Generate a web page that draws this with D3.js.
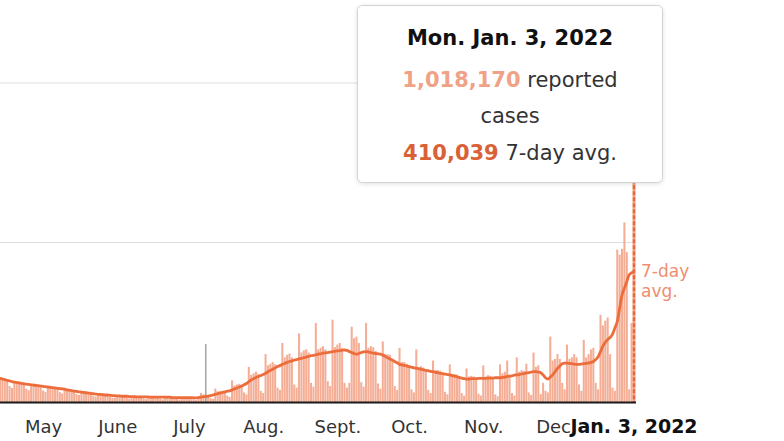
<!DOCTYPE html>
<html>
<head>
<meta charset="utf-8">
<script src="https://cdn.jsdelivr.net/npm/d3@7"></script>
<style>
  body { margin: 0; background: #fff; }
  svg { display: block; font-family: "DejaVu Sans", "Liberation Sans", sans-serif; }
</style>
</head>
<body>
<div id="chart"></div>
<script>
// US daily reported coronavirus cases, Apr. 12, 2021 – Jan. 3, 2022 (thousands)
const startDate = "2021-04-12";

// one row per week, Mon..Sun
const casesK = [
  80, 78, 76, 74, 72, 50, 44,
  66, 65, 64, 62, 60, 42, 37,
  57, 56, 55, 54, 52, 36, 32,
  49, 48, 47, 46, 45, 31, 27,
  41, 40, 39, 38, 36, 25, 22,
  32, 31, 30, 29, 28, 20, 17,
  25, 24, 24, 23, 22, 16, 13,
  14, 22, 21, 20, 19, 13, 11,
  18, 18, 17, 17, 17, 11, 9,
  17, 17, 16, 16, 16, 10, 8,
  16, 16, 15, 15, 15, 10, 8,
  16, 16, 15, 16, 15, 8, 6,
  10, 28, 24, 24, 23, 12, 10,
  42, 34, 34, 35, 33, 20, 16,
  68, 52, 55, 57, 52, 30, 24,
  110, 85, 90, 95, 88, 35, 28,
  150, 115, 120, 125, 118, 45, 38,
  185, 140, 148, 152, 140, 55, 45,
  215, 155, 162, 165, 155, 60, 48,
  248, 165, 170, 175, 165, 65, 50,
  258, 172, 180, 185, 170, 60, 45,
  60, 236, 200, 205, 185, 62, 48,
  248, 170, 175, 172, 160, 58, 42,
  190, 150, 150, 148, 135, 50, 38,
  170, 125, 125, 120, 112, 40, 30,
  165, 110, 112, 108, 100, 38, 28,
  130, 100, 100, 98, 90, 32, 24,
  118, 88, 88, 86, 80, 28, 20,
  105, 80, 82, 80, 74, 26, 20,
  115, 80, 84, 82, 76, 24, 18,
  118, 90, 95, 130, 85, 28, 20,
  140, 95, 100, 98, 120, 30, 22,
  155, 110, 115, 25, 60, 35, 30,
  205, 130, 135, 150, 135, 60, 40,
  180, 135, 140, 150, 140, 55, 35,
  195, 140, 150, 165, 170, 60, 40,
  273, 240, 255, 265, 150, 45, 35,
  478, 462, 480, 563, 470, 40, 248,
  1018.17
];

// 7-day average as drawn (thousands)
const avgK = [
  76, 74, 72, 70, 68, 66, 64,
  62, 61, 60, 58, 57, 56, 55,
  54, 53, 52, 51, 50, 49, 48,
  47, 46, 45, 44, 43, 42, 41,
  40, 38, 37, 36, 34, 33, 32,
  31, 30, 29, 28, 27, 26, 25,
  24, 24, 23, 22, 22, 21, 20,
  20, 19, 19, 18, 18, 18, 17,
  17, 17, 16, 16, 16, 16, 16,
  16, 15, 15, 15, 15, 15, 15,
  15, 15, 15, 14, 14, 14, 14,
  14, 14, 14, 14, 14, 13, 13,
  14, 15, 16, 17, 18, 20, 22,
  24, 26, 28, 30, 32, 34, 35,
  38, 41, 44, 47, 50, 54, 58,
  64, 69, 73, 77, 80, 83, 86,
  90, 95, 99, 103, 107, 111, 114,
  118, 121, 124, 127, 129, 131, 133,
  135, 137, 139, 141, 143, 145, 146,
  148, 150, 151, 153, 154, 155, 156,
  158, 159, 160, 161, 162, 163, 162,
  158, 155, 152, 150, 152, 155, 157,
  158, 157, 155, 153, 152, 151, 150,
  147, 143, 139, 135, 131, 127, 123,
  118, 116, 115, 113, 111, 109, 107,
  106, 104, 103, 101, 99, 98, 96,
  95, 93, 92, 90, 89, 87, 86,
  85, 83, 81, 79, 77, 75, 73,
  72, 72, 73, 73, 73, 74, 74,
  74, 74, 75, 75, 75, 76, 76,
  76, 77, 78, 80, 81, 82, 84,
  85, 86, 88, 89, 91, 92, 94,
  95, 95, 94, 92, 85, 76, 72,
  78, 85, 95, 105, 113, 120, 122,
  122, 121, 120, 119, 118, 118, 119,
  120, 121, 122, 124, 127, 133, 142,
  158, 175, 187, 196, 202, 212, 232,
  252, 294, 336, 357, 378, 399, 405,
  410.039
];

const monthTicks = ["2021-05-01", "2021-06-01", "2021-07-01", "2021-08-01", "2021-09-01", "2021-10-01", "2021-11-01", "2021-12-01"];
const monthLabels = ["May", "June", "July", "Aug.", "Sept.", "Oct.", "Nov.", "Dec"];
const gridValues = [500000, 1000000];
const markerDate = "2021-07-08", markerValue = 182000;

const tipDate = "Mon. Jan. 3, 2022";
const tipCases = 1018170, tipAvg = 410039;
const endLabel = "Jan. 3, 2022";

(function () {
  const W = 784, H = 441;
  const parse = d3.utcParse("%Y-%m-%d");
  const start = parse(startDate);
  const days = casesK.map((v, i) => ({ date: d3.utcDay.offset(start, i), cases: v * 1000, avg: avgK[i] * 1000 }));
  const last = days[days.length - 1];

  const svg = d3.select("#chart").append("svg").attr("width", W).attr("height", H);

  const x = d3.scaleUtc().domain([parse("2021-04-13"), last.date]).range([0, 634]);
  const y = d3.scaleLinear().domain([0, 1000000]).range([402, 83]);
  const step = x(d3.utcDay.offset(start, 1)) - x(start);
  const bw = step * 0.86;

  // grid
  svg.append("g").selectAll("line").data(gridValues).join("line")
    .attr("x1", 0).attr("x2", x(last.date))
    .attr("y1", d => y(d)).attr("y2", d => y(d))
    .attr("stroke", "#dedede").attr("stroke-width", 1);

  // daily bars
  svg.append("g").selectAll("rect").data(days.slice(0, -1)).join("rect")
    .attr("x", d => x(d.date) - bw / 2).attr("width", bw)
    .attr("y", d => y(d.cases)).attr("height", d => y(0) - y(d.cases))
    .attr("fill", "#f5ae96");

  // gray marker
  svg.append("line")
    .attr("x1", x(parse(markerDate))).attr("x2", x(parse(markerDate)))
    .attr("y1", y(markerValue)).attr("y2", y(0))
    .attr("stroke", "#a8a8a8").attr("stroke-width", 1.6);

  // highlighted bar
  svg.append("rect")
    .attr("x", x(last.date) - 1.5).attr("width", 3)
    .attr("y", y(last.cases)).attr("height", y(0) - y(last.cases))
    .attr("fill", "#f4a78b");
  svg.append("line")
    .attr("x1", x(last.date)).attr("x2", x(last.date))
    .attr("y1", y(last.cases)).attr("y2", y(0))
    .attr("stroke", "#e8683a").attr("stroke-width", 2.4)
    .attr("stroke-dasharray", "4 2");

  // 7-day avg line
  const line = d3.line().x(d => x(d.date)).y(d => y(d.avg)).curve(d3.curveMonotoneX);
  svg.append("path").datum(days)
    .attr("d", line).attr("fill", "none")
    .attr("stroke", "#ec6d3b").attr("stroke-width", 2.8)
    .attr("stroke-linejoin", "round");

  svg.append("text").attr("x", 641).attr("y", 277)
    .attr("font-size", 17).attr("fill", "#ee8e70")
    .selectAll("tspan").data(["7-day", "avg."]).join("tspan")
    .attr("x", 641).attr("dy", (d, i) => i ? 20 : 0).text(d => d);

  // baseline
  svg.append("line").attr("x1", 0).attr("x2", x(last.date) + 2)
    .attr("y1", y(0) + 0.5).attr("y2", y(0) + 0.5)
    .attr("stroke", "#1a1a1a").attr("stroke-width", 1.8);

  // x axis
  const ax = svg.append("g").attr("transform", `translate(0,${y(0)})`)
    .call(d3.axisBottom(x).tickValues(monthTicks.map(parse))
      .tickFormat((d, i) => monthLabels[i]).tickSize(0));
  ax.select(".domain").remove();
  ax.selectAll("text").attr("y", 31).attr("dy", 0)
    .attr("font-family", "DejaVu Sans").attr("font-size", 18).attr("fill", "#333")
    .attr("dx", (d, i) => i === monthLabels.length - 1 ? -2 : 0);

  svg.append("text").attr("x", x(last.date)).attr("y", 433)
    .attr("text-anchor", "middle").attr("font-size", 19).attr("font-weight", "bold")
    .attr("fill", "#111").text(endLabel);

  // tooltip
  const tip = svg.append("g");
  tip.append("rect").attr("x", 357.5).attr("y", 5.5).attr("width", 305).attr("height", 177)
    .attr("rx", 5).attr("fill", "#fff").attr("stroke", "#d4d4d4")
    .style("filter", "drop-shadow(0 1px 2px rgba(0,0,0,0.12))");
  const cx = 510, fmt = d3.format(",");
  tip.append("text").attr("x", cx).attr("y", 45).attr("text-anchor", "middle")
    .attr("font-size", 21).attr("font-weight", "bold").attr("fill", "#111").text(tipDate);
  const t2 = tip.append("text").attr("x", cx).attr("y", 87).attr("text-anchor", "middle")
    .attr("font-size", 21).attr("fill", "#333");
  t2.append("tspan").attr("font-weight", "bold").attr("fill", "#f0a287").text(fmt(tipCases));
  t2.append("tspan").text(" reported");
  tip.append("text").attr("x", cx).attr("y", 123).attr("text-anchor", "middle")
    .attr("font-size", 21).attr("fill", "#333").text("cases");
  const t4 = tip.append("text").attr("x", cx).attr("y", 160).attr("text-anchor", "middle")
    .attr("font-size", 21).attr("fill", "#333");
  t4.append("tspan").attr("font-weight", "bold").attr("fill", "#da6136").text(fmt(tipAvg));
  t4.append("tspan").text(" 7-day avg.");
})();
</script>
</body>
</html>
